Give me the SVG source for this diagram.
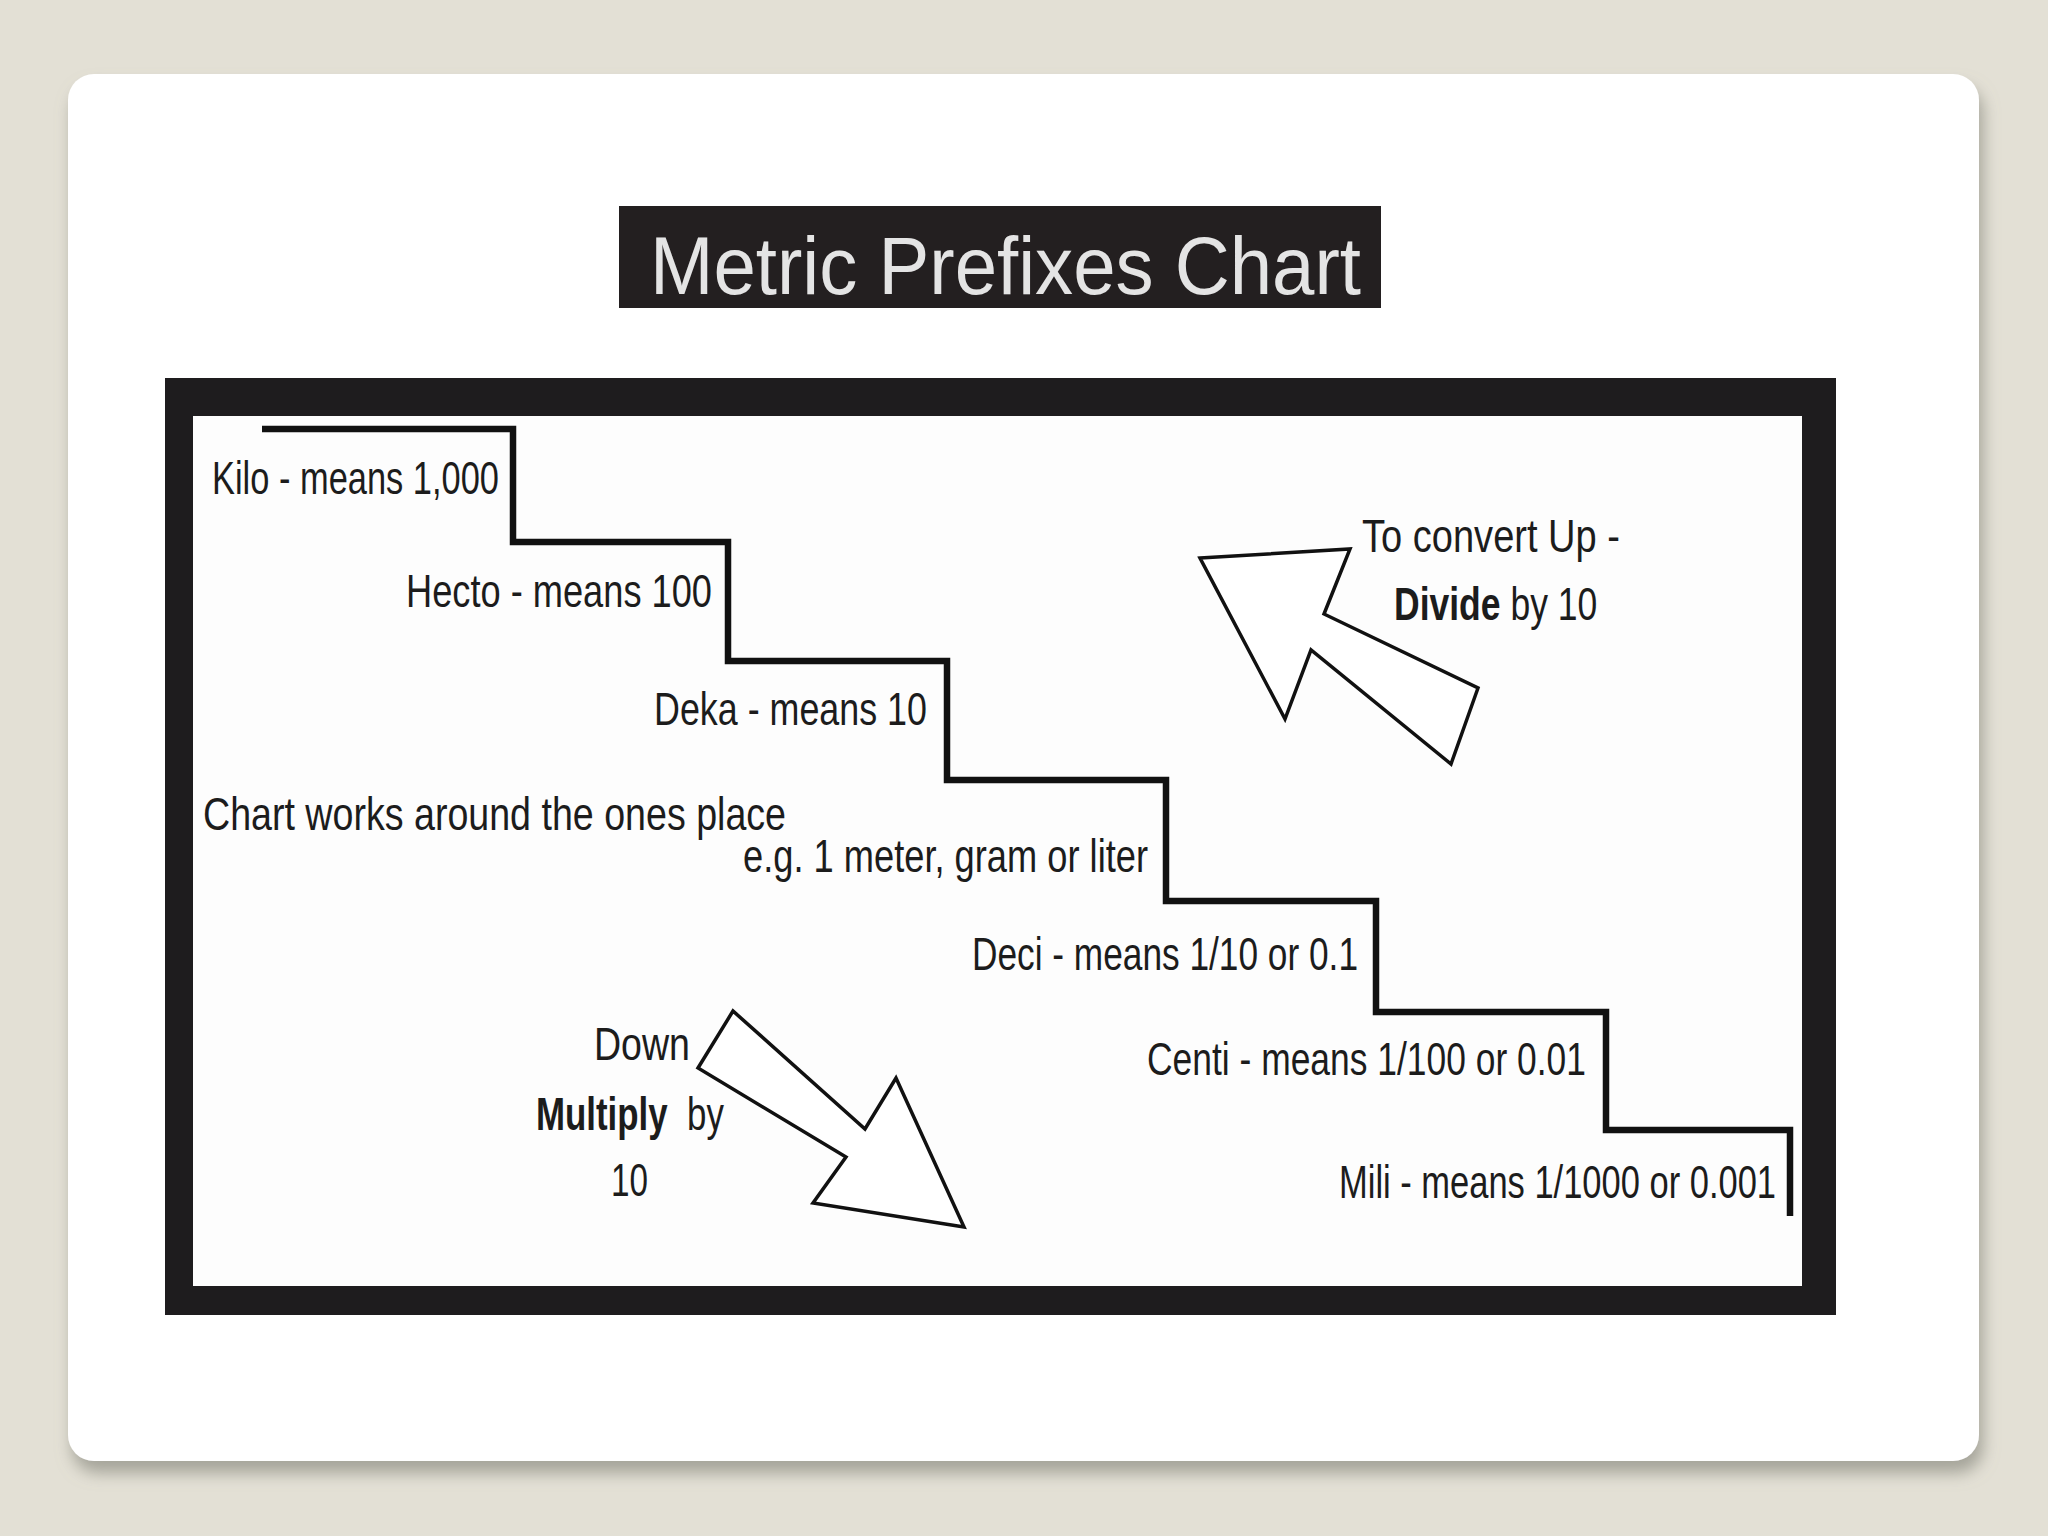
<svg xmlns="http://www.w3.org/2000/svg" width="2048" height="1536" viewBox="0 0 2048 1536">
  <defs>
    <filter id="shadow" x="-5%" y="-5%" width="110%" height="112%">
      <feDropShadow dx="4" dy="12" stdDeviation="8" flood-color="#8a8a80" flood-opacity="0.7"/>
    </filter>
    <style>
      .lbl { font-family: "Liberation Sans", Arial, sans-serif; font-size: 46px; fill: #1c1c1c; }
      .bold { font-weight: bold; }
      .stair { fill: none; stroke: #111; stroke-width: 6.5; stroke-linejoin: miter; }
      .arrow { fill: #fff; stroke: #111; stroke-width: 3.5; stroke-linejoin: miter; }
    </style>
  </defs>
  <rect x="0" y="0" width="2048" height="1536" fill="#e3e0d5"/>
  <g id="card">
    <rect x="68" y="74" width="1911" height="1387" rx="26" ry="26" fill="#ffffff" filter="url(#shadow)"/>
  </g>
  <g id="title">
    <rect x="619" y="206" width="762" height="102" fill="#231f20"/>
    <text x="650" y="294" font-family="Liberation Sans, Arial, sans-serif" font-size="82" fill="#e4e4e4" textLength="711" lengthAdjust="spacingAndGlyphs">Metric Prefixes Chart</text>
  </g>
  <g id="frame">
    <rect x="165" y="378" width="1671" height="937" fill="#1e1c1e"/>
    <rect x="193" y="416" width="1609" height="870" fill="#fdfdfd"/>
  </g>
  <g id="connectors">
    <path class="stair" d="M262 429 H513 V542 H728 V661 H947 V780 H1166 V901 H1376 V1012 H1606 V1130 H1790 V1216"/>
  </g>
  <g id="up-arrow">
    <polygon class="arrow" points="1200,558 1350,549 1324,614 1478,688 1451,764 1311,650 1285,719"/>
  </g>
  <g id="down-arrow">
    <polygon class="arrow" points="733,1011 698,1068 846,1157 813,1203 964,1227 896,1078 865,1129"/>
  </g>
  <g id="kilo"><text class="lbl" x="212" y="494" textLength="287" lengthAdjust="spacingAndGlyphs">Kilo - means 1,000</text></g>
  <g id="hecto"><text class="lbl" x="406" y="607" textLength="306" lengthAdjust="spacingAndGlyphs">Hecto - means 100</text></g>
  <g id="deka"><text class="lbl" x="654" y="725" textLength="273" lengthAdjust="spacingAndGlyphs">Deka - means 10</text></g>
  <g id="ones">
    <text class="lbl" x="203" y="830" textLength="583" lengthAdjust="spacingAndGlyphs">Chart works around the ones place</text>
    <text class="lbl" x="743" y="872" textLength="405" lengthAdjust="spacingAndGlyphs">e.g. 1 meter, gram or liter</text>
  </g>
  <g id="deci"><text class="lbl" x="972" y="970" textLength="386" lengthAdjust="spacingAndGlyphs">Deci - means 1/10 or 0.1</text></g>
  <g id="centi"><text class="lbl" x="1147" y="1075" textLength="439" lengthAdjust="spacingAndGlyphs">Centi - means 1/100 or 0.01</text></g>
  <g id="mili"><text class="lbl" x="1339" y="1198" textLength="437" lengthAdjust="spacingAndGlyphs">Mili - means 1/1000 or 0.001</text></g>
  <g id="up-label">
    <text class="lbl" x="1362" y="552" textLength="258" lengthAdjust="spacingAndGlyphs">To convert Up -</text>
    <text class="lbl" transform="translate(1394 620) scale(0.772 1)"><tspan class="bold">Divide</tspan> by 10</text>
  </g>
  <g id="down-label">
    <text class="lbl" x="594" y="1060" textLength="96" lengthAdjust="spacingAndGlyphs">Down</text>
    <text class="lbl" transform="translate(536 1130) scale(0.758 1)" xml:space="preserve"><tspan class="bold">Multiply</tspan>  by</text>
    <text class="lbl" x="611" y="1196" textLength="37" lengthAdjust="spacingAndGlyphs">10</text>
  </g>
</svg>
